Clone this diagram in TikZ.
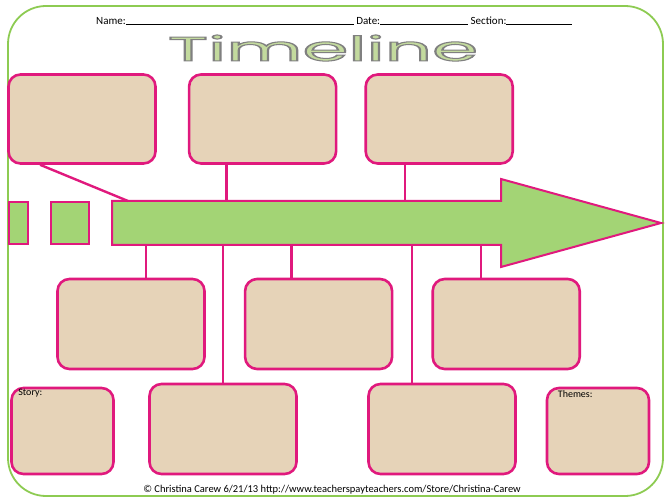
\documentclass[tikz,border=0pt]{standalone}
\usepackage{fontspec}
\setmainfont{Carlito}
\newfontfamily\titlefont{Poppins}
\usetikzlibrary{positioning,calc}

\definecolor{pinkline}{HTML}{E0197D}
\definecolor{sand}{HTML}{E6D3B8}
\definecolor{arrowgreen}{HTML}{A3D475}
\definecolor{framegreen}{HTML}{8DCB52}
\definecolor{titlegreen}{HTML}{C3DA9E}

\tikzstyle{card} = [draw=pinkline, fill=sand, line width=2.6pt, rectangle,
    rounded corners=12pt, minimum width=147pt, minimum height=89pt, inner sep=0pt]
\tikzstyle{smallcard} = [card, minimum width=102pt, minimum height=86pt]
\tikzstyle{tick} = [draw=pinkline, fill=arrowgreen, line width=2.6pt, rectangle,
    minimum height=42pt, inner sep=0pt]
\tikzstyle{link} = [draw=pinkline, line width=2.4pt]
\tikzstyle{input} = [coordinate]
\tikzstyle{titletext} = [font=\titlefont\fontsize{40}{40}\selectfont, xscale=1.85, yscale=0.85]
\newcommand{\outlined}[1]{\special{pdf:code 2 Tr 1.2 w 0.5 0.5 0.5 RG}#1\special{pdf:code 0 Tr}}

\begin{document}
\begin{tikzpicture}[x=1pt, y=-1pt, node distance=0pt]
    \useasboundingbox (0,0) rectangle (669,502);
    \draw [framegreen, line width=1.8pt, rounded corners=38pt] (8,6) rectangle (663,496);

    % header
    \node [anchor=west, inner sep=0pt, font=\fontsize{11}{13}\selectfont] (header) at (96,21)
        {Name:\rule{228pt}{0.6pt} Date:\rule{88pt}{0.6pt} Section:\rule{66pt}{0.6pt}};
    \node [titletext, text=titlegreen] (title) at (323,48) {\outlined{Timeline}};

    % top row
    \node [card] (boxA) at (82,119) {};
    \node [card, right=31pt of boxA] (boxB) {};
    \node [card, right=27pt of boxB] (boxC) {};

    % arrow
    \draw [draw=pinkline, fill=arrowgreen, line width=2pt, line join=miter]
        (112,201) -- (501,201) -- (501,179) -- (661,223) -- (501,267) -- (501,245) -- (112,245) -- cycle;
    \node [input, name=shaftN] at (112,201) {};
    \node [input, name=shaftS] at (112,245) {};
    \node [tick, minimum width=19pt] (tick1) at (18.5,223) {};
    \node [tick, minimum width=38pt] (tick2) at (70,223) {};

    % middle row
    \node [card, minimum height=90pt] (boxD) at (131,324) {};
    \node [card, minimum height=90pt, right=38pt of boxD] (boxE) {};
    \node [card, minimum height=90pt, right=38pt of boxE] (boxF) {};

    % bottom row
    \node [smallcard, label={[anchor=north west, inner sep=0pt, font=\fontsize{10}{11}\selectfont]north west:{\hspace{8pt}\raisebox{-9pt}{Story:}}}] (story) at (62.5,431) {};
    \node [card, minimum height=90pt] (boxH) at (223,429) {};
    \node [card, minimum height=90pt] (boxI) at (442,429) {};
    \node [smallcard, label={[anchor=north west, inner sep=0pt, font=\fontsize{10}{11}\selectfont]north west:{\hspace{12pt}\raisebox{-11pt}{Themes:}}}] (themes) at (598,431) {};

    % connectors
    \draw [link] ($(boxA.south west)!0.22!(boxA.south east)$) -- ($(shaftN)+(16,0)$);
    \draw [link] ($(boxB.south west)!0.26!(boxB.south east)$) coordinate (b1) -- (b1 |- shaftN);
    \draw [link] ($(boxC.south west)!0.27!(boxC.south east)$) coordinate (c1) -- (c1 |- shaftN);
    \draw [link] ($(boxD.north west)!0.60!(boxD.north east)$) coordinate (d1) -- (d1 |- shaftS);
    \draw [link] ($(boxH.north west)!0.50!(boxH.north east)$) coordinate (h1) -- (h1 |- shaftS);
    \draw [link] ($(boxE.north west)!0.32!(boxE.north east)$) coordinate (e1) -- (e1 |- shaftS);
    \draw [link] ($(boxI.north west)!0.30!(boxI.north east)$) coordinate (i1) -- (i1 |- shaftS);
    \draw [link] ($(boxF.north west)!0.33!(boxF.north east)$) coordinate (f1) -- (f1 |- shaftS);

    % footer
    \node [font=\fontsize{10.5}{11}\selectfont, inner sep=0pt] (footer) at (332,490)
        {\textcopyright{} Christina Carew 6/21/13 http://www.teacherspayteachers.com/Store/Christina-Carew};
\end{tikzpicture}
\end{document}
